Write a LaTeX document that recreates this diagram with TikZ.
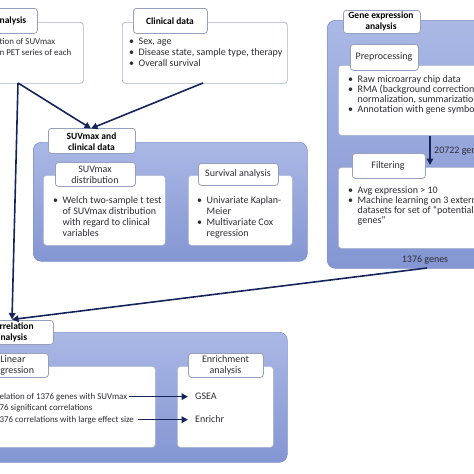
\documentclass[tikz,border=0pt]{standalone}
\usepackage{fontspec}
\setmainfont{Carlito}
\usetikzlibrary{arrows.meta}
\definecolor{panelA}{RGB}{170,184,229}
\definecolor{panelB}{RGB}{132,150,211}
\definecolor{panelLine}{RGB}{128,146,204}
\definecolor{boxLine}{RGB}{168,178,204}
\definecolor{tabLine}{RGB}{150,160,188}
\definecolor{navy}{RGB}{22,36,92}
\definecolor{txtc}{RGB}{45,45,50}
\newcommand\bulx{\makebox[9.5pt][l]{•}}
\newcommand\indx{\hspace*{9.5pt}}
\tikzset{
 panel/.style={rounded corners=8pt, draw=panelLine, line width=0.6pt, top color=panelA, bottom color=panelB},
 wbox/.style={rounded corners=3pt, draw=boxLine, fill=white, line width=0.7pt},
 tabbox/.style={rounded corners=3pt, draw=tabLine, fill=white, line width=0.8pt},
 txt/.style={font=\fontsize{10}{11}\selectfont, inner sep=0pt, anchor=base west, text=txtc},
 smalltxt/.style={txt, font=\fontsize{8.9}{11}\selectfont},
 list/.style={txt, align=left},
 ttl/.style={font=\fontsize{9.5}{11}\selectfont\bfseries, inner sep=0pt, align=center, text=black},
 tabtxt/.style={font=\fontsize{10}{11}\selectfont, inner sep=0pt, align=center, text=txtc},
 conn/.style={draw=navy, line width=1.6pt, -{Triangle[length=6.5pt,width=6.5pt]}},
}
\newcommand\bx[6]{\node[#1,anchor=north west,minimum width={(#4-#2)*1pt},minimum height={(#5-#3)*1pt},inner sep=0pt] (#6) at (#2,#3) {};}
\begin{document}
\begin{tikzpicture}[x=1pt,y=-1pt]
\useasboundingbox (0,0) rectangle (474,474);
\clip (0,0) rectangle (474,474);
% panels
\bx{panel}{327}{20}{540}{268}{gene}
\bx{panel}{33}{142}{307}{261}{suv}
\bx{panel}{-50}{332}{287}{462}{corr}
% white boxes
\bx{wbox}{-60}{22}{83}{83}{pet}
\bx{wbox}{122}{22}{287}{83}{clin}
\bx{wbox}{338}{65}{540}{135}{prep}
\bx{wbox}{338}{167}{540}{248}{filt}
\bx{wbox}{43}{175}{165}{245}{dist}
\bx{wbox}{188}{175}{292}{245}{surv}
\bx{wbox}{-50}{366}{155}{447}{lr}
\bx{wbox}{177}{366}{273}{447}{enrich}
% tabs
\bx{tabbox}{-40}{8}{37}{33}{pettab}
\bx{tabbox}{133}{8}{207}{33}{clintab}
\bx{tabbox}{343}{10}{420}{33}{genetab}
\bx{tabbox}{350}{44}{418}{70}{preptab}
\bx{tabbox}{352}{153}{425}{178}{filttab}
\bx{tabbox}{48}{128}{135}{153}{suvtab}
\bx{tabbox}{55}{162}{135}{186}{disttab}
\bx{tabbox}{198}{163}{278}{185}{survtab}
\bx{tabbox}{-40}{320}{53}{344}{corrtab}
\bx{tabbox}{-40}{353}{48}{377}{lrtab}
\bx{tabbox}{188}{353}{263}{377}{enrichtab}
% titles
\node[ttl,anchor=west] (pettl) at (-0.5,21) {nalysis};
\node[ttl] (clintl) at (170,21) {Clinical data};
\node[ttl] (genetl) at (381,21.5) {Gene expression\\analysis};
\node[tabtxt] (preptl) at (384,57) {Preprocessing};
\node[tabtxt] (filttl) at (388,166) {Filtering};
\node[ttl] (suvtl) at (91.5,141.5) {SUVmax and\\clinical data};
\node[tabtxt] (disttl) at (95,175) {SUVmax\\distribution};
\node[tabtxt] (survtl) at (238,174) {Survival analysis};
\node[ttl] (corrtl) at (11.5,332.5) {Correlation\\analysis};
\node[tabtxt] (lrtl) at (13,365.5) {Linear\\regression};
\node[tabtxt] (enrtl) at (225.5,365.5) {Enrichment\\analysis};
% texts (list nodes are placed by the baseline of their last line)
\node[smalltxt] (pett1) at (-0.5,44) {tion of SUVmax};
\node[smalltxt] (pett2) at (-0.5,55) {n PET series of each};
\node[list] (clinl) at (129,66) {\bulx Sex, age\\\bulx Disease state, sample type, therapy\\\bulx Overall survival};
\node[list,font=\fontsize{10}{10}\selectfont] (prepl) at (348,112) {\bulx Raw microarray chip data\\\bulx RMA (background correction,\\\indx normalization, summarization)\\\bulx Annotation with gene symbols};
\node[txt] (glab1) at (434,153) {20722 genes};
\node[list,font=\fontsize{10}{9.7}\selectfont] (filtl) at (348,223) {\bulx Avg expression > 10\\\bulx Machine learning on 3 external\\\indx datasets for set of “potential s\\\indx genes”};
\node[tabtxt] (glab2) at (425,260) {1376 genes};
\node[list] (distl) at (53,236) {\bulx Welch two-sample t test\\\indx of SUVmax distribution\\\indx with regard to clinical\\\indx variables};
\node[list] (survl) at (197,236) {\bulx Univariate Kaplan-\\\indx Meier\\\bulx Multivariate Cox\\\indx regression};
\node[smalltxt] (lr1) at (-0.5,399) {elation of 1376 genes with SUVmax};
\node[smalltxt] (lr2) at (-0.5,410.5) {76 significant correlations};
\node[smalltxt] (lr3) at (-0.5,422) {376 correlations with large effect size};
\node[txt] (gsea) at (195,399) {GSEA};
\node[txt] (enr) at (195,422) {Enrichr};
% connector ends
\coordinate (petout) at (18,83);
\coordinate (clinout) at (203,83);
\coordinate (suvin) at (91,128.5);
\coordinate (corrin) at (12,319.5);
\coordinate (geneout) at (427,268);
\coordinate (prepout) at (430,136);
\coordinate (filtin) at (430,165);
% connectors
\draw[conn] (petout) -- (corrin);
\draw[conn] (petout) -- (suvin);
\draw[conn] (clinout) -- (suvin);
\draw[conn] (geneout) -- (corrin);
\draw[conn] (prepout) -- (filtin);
\draw[conn, shorten <=2pt, shorten >=7pt] (lr1.east) -- (lr1.east -| gsea.west);
\draw[conn, shorten <=4pt, shorten >=7pt] (lr3.east) -- (lr3.east -| enr.west);
\end{tikzpicture}
\end{document}
